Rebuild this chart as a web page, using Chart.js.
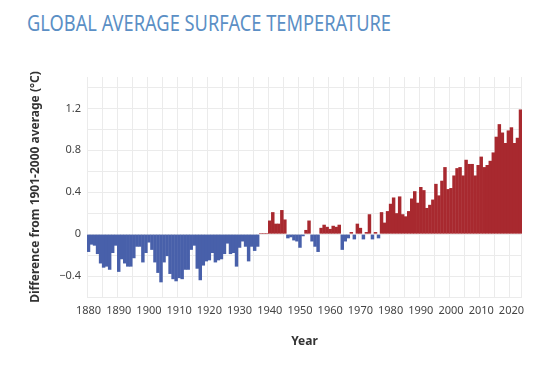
<!DOCTYPE html>
<html><head><meta charset="utf-8">
<script src="https://cdn.jsdelivr.net/npm/chart.js@4.4.1/dist/chart.umd.min.js"></script>
<style>
html,body{margin:0;padding:0;background:#fff;}
#wrap{position:relative;width:554px;height:374px;overflow:hidden;}
#title{position:absolute;left:27px;top:11px;font-family:"Noto Sans",sans-serif;font-size:22px;font-weight:400;color:#5b8fc5;white-space:nowrap;transform-origin:0 0;line-height:1;display:inline-block;}
canvas{position:absolute;left:0;top:0;}
</style></head><body>
<div id="wrap"><span id="title">GLOBAL AVERAGE SURFACE TEMPERATURE</span><canvas id="c" width="554" height="374"></canvas></div>
<script>
const titleText = "GLOBAL AVERAGE SURFACE TEMPERATURE";
const yAxisTitle = "Difference from 1901-2000 average (°C)";
const xAxisTitle = "Year";
const firstYear = 1880;
const lastYear = 2023;
const years = [];
for (let y = firstYear; y <= lastYear; y++) years.push(y);

const anomalies1880s = [-0.17,-0.10,-0.11,-0.19,-0.28,-0.32,-0.31,-0.34,-0.18,-0.11];
const anomalies1890s = [-0.36,-0.24,-0.28,-0.31,-0.31,-0.23,-0.12,-0.12,-0.27,-0.18];
const anomalies1900s = [-0.08,-0.15,-0.27,-0.37,-0.46,-0.27,-0.21,-0.38,-0.43,-0.45];
const anomalies1910s = [-0.42,-0.43,-0.34,-0.34,-0.15,-0.11,-0.33,-0.44,-0.30,-0.26];
const anomalies1920s = [-0.25,-0.18,-0.27,-0.25,-0.24,-0.19,-0.09,-0.19,-0.18,-0.31];
const anomalies1930s = [-0.13,-0.07,-0.12,-0.26,-0.12,-0.16,-0.12,0.01,0.01,0.01];
const anomalies1940s = [0.13,0.21,0.10,0.10,0.23,0.14,-0.04,-0.03,-0.06,-0.07];
const anomalies1950s = [-0.13,-0.02,0.04,0.13,-0.07,-0.12,-0.17,0.06,0.09,0.07];
const anomalies1960s = [0.05,0.08,0.07,0.09,-0.15,-0.07,-0.04,0.02,-0.05,0.10];
const anomalies1970s = [0.06,-0.05,0.02,0.19,-0.05,0.02,-0.04,0.21,0.11,0.22];
const anomalies1980s = [0.29,0.35,0.20,0.36,0.19,0.17,0.22,0.34,0.41,0.30];
const anomalies1990s = [0.45,0.42,0.25,0.28,0.33,0.48,0.37,0.51,0.64,0.43];
const anomalies2000s = [0.44,0.56,0.63,0.64,0.56,0.71,0.67,0.67,0.56,0.66];
const anomalies2010s = [0.74,0.64,0.66,0.70,0.78,0.93,1.05,0.97,0.87,0.99];
const anomalies2020s = [1.02,0.87,0.92,1.19];
const anomalies = [].concat(anomalies1880s, anomalies1890s, anomalies1900s, anomalies1910s,
  anomalies1920s, anomalies1930s, anomalies1940s, anomalies1950s, anomalies1960s,
  anomalies1970s, anomalies1980s, anomalies1990s, anomalies2000s, anomalies2010s, anomalies2020s);

const yTickLabels = [-0.4, 0, 0.4, 0.8, 1.2];
const yMin = -0.6, yMax = 1.5;

const BLUE = '#4860aa';
const RED = '#a8292f';
const GRID = '#ebebeb';

// fit title width
const t = document.getElementById('title');
t.textContent = titleText;
const w = t.getBoundingClientRect().width;
t.style.transform = 'scaleX(' + (364 / w) + ')';

function fmt(v) {
  if (Math.abs(v) < 1e-9) return '0';
  const s = Math.abs(v).toFixed(1);
  return (v < 0 ? '\u2212' : '') + s;
}

new Chart(document.getElementById('c'), {
  type: 'bar',
  data: {
    labels: years,
    datasets: [{
      data: anomalies,
      backgroundColor: anomalies.map(v => v < 0 ? BLUE : RED),
      borderWidth: 0,
      barPercentage: 1.15,
      categoryPercentage: 1
    }]
  },
  options: {
    responsive: false,
    animation: false,
    devicePixelRatio: 1,
    layout: { padding: { left: 24, top: 77, right: 32, bottom: 21 } },
    plugins: { legend: { display: false }, tooltip: { enabled: false }, title: { display: false } },
    scales: {
      x: {
        type: 'category',
        offset: true,
        afterFit: s => { s.height = 56; },
        border: { display: false },
        grid: {
          offset: true,
          drawTicks: false,
          color: ctx => (ctx.type !== 'tick' || ctx.index % 5 === 0) ? GRID : 'rgba(0,0,0,0)',
          lineWidth: 1
        },
        ticks: {
          autoSkip: false,
          maxRotation: 0,
          minRotation: 0,
          padding: 7,
          color: '#444',
          font: { family: 'Noto Sans', size: 11 },
          callback: (val, idx) => (years[idx] % 10 === 0 ? String(years[idx]) : '')
        },
        title: {
          display: true,
          text: xAxisTitle,
          color: '#333',
          font: { family: 'Noto Sans', size: 12, weight: 'bold' }
        }
      },
      y: {
        min: yMin,
        max: yMax,
        afterFit: s => { s.width = 63; },
        border: { display: false },
        grid: { color: GRID, drawTicks: false, lineWidth: 1 },
        ticks: {
          stepSize: 0.1,
          padding: 6,
          color: '#444',
          font: { family: 'Noto Sans', size: 11 },
          callback: v => {
            const k = Math.round(v * 10);
            return yTickLabels.some(l => Math.round(l * 10) === k) ? fmt(v) : '';
          }
        },
        title: {
          display: true,
          text: yAxisTitle,
          color: '#333',
          font: { family: 'Noto Sans', size: 12, weight: 'bold' }
        }
      }
    }
  }
});
</script>
</body></html>
